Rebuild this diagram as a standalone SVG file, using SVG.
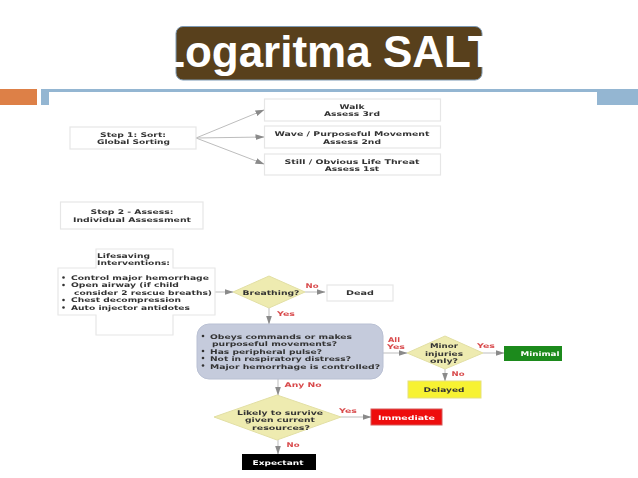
<svg xmlns="http://www.w3.org/2000/svg" width="638" height="478" viewBox="0 0 638 478">
<defs>
<filter id="soft" x="-5%" y="-5%" width="110%" height="110%"><feGaussianBlur stdDeviation="0.5"/></filter>
<marker id="arr" markerWidth="9" markerHeight="7" refX="8.5" refY="3.5" orient="auto" markerUnits="userSpaceOnUse"><path d="M0 0.5L9 3.5L0 6.5Z" fill="#8a8a8a"/></marker>
</defs>
<style>
text{font-family:"DejaVu Sans",Verdana,sans-serif;font-weight:bold;font-size:6.4px;fill:#333}
.c{text-anchor:middle}
.box{fill:#fff;stroke:#e6e6e6;stroke-width:1.2}
.dia{fill:#eeebb0;stroke:#e2dfa4;stroke-width:1}
.lab{fill:#d8484a;text-anchor:middle}
.con path{fill:none;stroke:#bdbdbd;stroke-width:1;marker-end:url(#arr)}
.w{fill:#fff}
</style>
<rect width="638" height="478" fill="#fff"/>
<g id="header">
<rect x="0" y="89" width="37" height="16" fill="#dd8047"/>
<path d="M41 89H638V105H597V92H49V105H41Z" fill="#94b6d2"/>
</g>
<g id="title">
<rect x="176" y="26.500" width="306" height="53.500" rx="7" fill="#58401c" stroke="#7d9ab5" stroke-width="1"/>
<text x="158" y="67" style="font-family:'Liberation Sans',Arial,sans-serif;font-size:44px;fill:#fff">Logaritma SALT</text>
</g>
<g filter="url(#soft)">
<g id="connectors" class="con">
<path d="M196 138L264 110"/>
<path d="M196 138L264 137"/>
<path d="M196 138L264 164"/>
<path d="M215 292L233 292"/>
<path d="M305 292L325 292"/>
<path d="M269 308L269 324"/>
<path d="M383 353L407 353"/>
<path d="M483 353L504 353"/>
<path d="M445 369L445 381"/>
<path d="M278 379L278 395"/>
<path d="M341 417L371 417"/>
<path d="M278 440L278 454"/>
</g>
<g id="step1"><rect class="box" x="70" y="127" width="126" height="22"/><text class="c" x="133" y="136.500" textLength="66" lengthAdjust="spacingAndGlyphs">Step 1: Sort:</text><text class="c" x="133.500" y="144" textLength="73" lengthAdjust="spacingAndGlyphs">Global Sorting</text></g>
<g id="walk"><rect class="box" x="264.500" y="99" width="176" height="22"/><text class="c" x="352" y="108.500" textLength="25" lengthAdjust="spacingAndGlyphs">Walk</text><text class="c" x="352" y="116" textLength="56" lengthAdjust="spacingAndGlyphs">Assess 3rd</text></g>
<g id="wave"><rect class="box" x="264.500" y="126" width="176" height="22"/><text class="c" x="352" y="135.500" textLength="155" lengthAdjust="spacingAndGlyphs">Wave / Purposeful Movement</text><text class="c" x="352" y="143.500" textLength="58" lengthAdjust="spacingAndGlyphs">Assess 2nd</text></g>
<g id="still"><rect class="box" x="264.500" y="154" width="176" height="21"/><text class="c" x="352" y="163.500" textLength="135" lengthAdjust="spacingAndGlyphs">Still / Obvious Life Threat</text><text class="c" x="352" y="171" textLength="54.500" lengthAdjust="spacingAndGlyphs">Assess 1st</text></g>
<g id="step2"><rect class="box" x="60.500" y="202" width="142.500" height="27"/><text class="c" x="132" y="214" textLength="83" lengthAdjust="spacingAndGlyphs">Step 2 - Assess:</text><text class="c" x="132" y="221.500" textLength="118" lengthAdjust="spacingAndGlyphs">Individual Assessment</text></g>
<g id="lifesaving">
<path class="box" d="M96 249H173V268H215V315H173V335H96V315H58V268H96Z"/>
<text x="97" y="257.500" textLength="53" lengthAdjust="spacingAndGlyphs">Lifesaving</text><text x="97" y="265" textLength="73" lengthAdjust="spacingAndGlyphs">Interventions:</text>
<circle cx="63.500" cy="277.500" r="1.300" fill="#333"/><text x="71" y="279.500" textLength="138" lengthAdjust="spacingAndGlyphs">Control major hemorrhage</text>
<circle cx="63.500" cy="285" r="1.300" fill="#333"/><text x="71" y="287" textLength="108" lengthAdjust="spacingAndGlyphs">Open airway (if child</text>
<text x="74" y="294.500" textLength="138" lengthAdjust="spacingAndGlyphs">consider 2 rescue breaths)</text>
<circle cx="63.500" cy="300" r="1.300" fill="#333"/><text x="71" y="302" textLength="110" lengthAdjust="spacingAndGlyphs">Chest decompression</text>
<circle cx="63.500" cy="307.500" r="1.300" fill="#333"/><text x="71" y="309.500" textLength="119" lengthAdjust="spacingAndGlyphs">Auto injector antidotes</text>
</g>
<g id="breathing"><path class="dia" d="M269 276L305 292L269 308L233 292Z"/><text class="c" x="271" y="294.500" textLength="57" lengthAdjust="spacingAndGlyphs">Breathing?</text></g>
<g id="dead"><rect class="box" x="327" y="285" width="66" height="16"/><text class="c" x="360" y="295" textLength="28" lengthAdjust="spacingAndGlyphs">Dead</text></g>
<g id="assess"><rect x="197" y="324" width="186" height="55" rx="12" fill="#c5cbdc" stroke="#b9c0d3"/>
<circle cx="203" cy="336" r="1.300" fill="#333"/><text x="210" y="338.500" textLength="142" lengthAdjust="spacingAndGlyphs">Obeys commands or makes</text>
<text x="212" y="346" textLength="125" lengthAdjust="spacingAndGlyphs">purposeful movements?</text>
<circle cx="203" cy="351" r="1.300" fill="#333"/><text x="210" y="353.500" textLength="112" lengthAdjust="spacingAndGlyphs">Has peripheral pulse?</text>
<circle cx="203" cy="358" r="1.300" fill="#333"/><text x="210" y="361" textLength="141" lengthAdjust="spacingAndGlyphs">Not in respiratory distress?</text>
<circle cx="203" cy="365.500" r="1.300" fill="#333"/><text x="210" y="368.500" textLength="170" lengthAdjust="spacingAndGlyphs">Major hemorrhage is controlled?</text>
</g>
<g id="minor"><path class="dia" d="M445 336L483 353L445 369L407 353Z"/><text class="c" x="444" y="348" textLength="28" lengthAdjust="spacingAndGlyphs">Minor</text><text class="c" x="444" y="355.500" textLength="38" lengthAdjust="spacingAndGlyphs">injuries</text><text class="c" x="444" y="363" textLength="28" lengthAdjust="spacingAndGlyphs">only?</text></g>
<g id="minimal"><rect x="504" y="346" width="58" height="15" fill="#1f8a1a"/><text class="c w" x="540" y="355.500" textLength="39" lengthAdjust="spacingAndGlyphs">Minimal</text></g>
<g id="delayed"><rect x="408" y="381" width="73" height="17" fill="#f7f233" stroke="#e5e080"/><text class="c" x="444" y="391.500" textLength="41" lengthAdjust="spacingAndGlyphs">Delayed</text></g>
<g id="likely"><path class="dia" d="M277 395L341 417L277 440L214 417Z"/><text class="c" x="280" y="414.500" textLength="86" lengthAdjust="spacingAndGlyphs">Likely to survive</text><text class="c" x="280" y="422" textLength="70" lengthAdjust="spacingAndGlyphs">given current</text><text class="c" x="281" y="429.500" textLength="58" lengthAdjust="spacingAndGlyphs">resources?</text></g>
<g id="immediate"><rect x="371" y="409" width="71" height="16" fill="#ee0a0a" stroke="#d65a5a"/><text class="c w" x="406.500" y="419.500" textLength="57" lengthAdjust="spacingAndGlyphs">Immediate</text></g>
<g id="expectant"><rect x="242" y="454" width="74" height="16" fill="#000"/><text class="c w" x="278" y="464.500" textLength="51" lengthAdjust="spacingAndGlyphs">Expectant</text></g>
<g id="labels">
<text class="lab" x="312" y="288" textLength="13" lengthAdjust="spacingAndGlyphs">No</text>
<text class="lab" x="286" y="316" textLength="18" lengthAdjust="spacingAndGlyphs">Yes</text>
<text class="lab" x="394" y="341.500" textLength="12" lengthAdjust="spacingAndGlyphs">All</text>
<text class="lab" x="396" y="349" textLength="18" lengthAdjust="spacingAndGlyphs">Yes</text>
<text class="lab" x="486" y="347.500" textLength="18" lengthAdjust="spacingAndGlyphs">Yes</text>
<text class="lab" x="458" y="375.500" textLength="13" lengthAdjust="spacingAndGlyphs">No</text>
<text class="lab" x="303" y="386.500" textLength="37" lengthAdjust="spacingAndGlyphs">Any No</text>
<text class="lab" x="348" y="412.500" textLength="18" lengthAdjust="spacingAndGlyphs">Yes</text>
<text class="lab" x="293" y="446.500" textLength="13" lengthAdjust="spacingAndGlyphs">No</text>
</g>
</g>
</svg>
